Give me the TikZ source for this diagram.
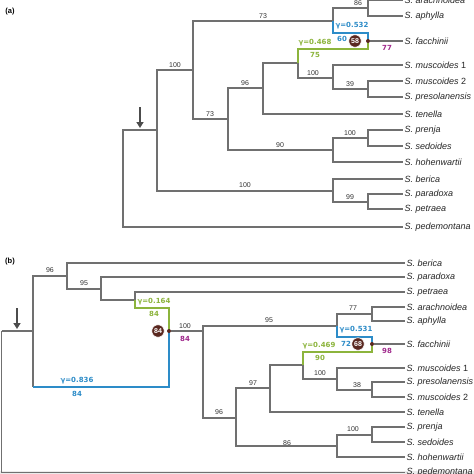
\documentclass[tikz,border=0pt]{standalone}
\usepackage{fontspec}
\setmainfont{Liberation Sans}
\newfontfamily\gfont{DejaVu Sans}
\usetikzlibrary{arrows.meta,calc}
\definecolor{br}{RGB}{112,112,112}
\definecolor{hb}{RGB}{45,140,200}
\definecolor{hg}{RGB}{140,180,60}
\definecolor{mg}{RGB}{160,40,140}
\definecolor{cb}{RGB}{90,40,32}
\begin{document}
\begin{tikzpicture}[x=1pt,y=-1pt,
 edge/.style={draw=br,line width=1.1pt},
 bedge/.style={draw=hb,line width=1.3pt},
 gedge/.style={draw=hg,line width=1.3pt},
 leaf/.style={anchor=west,inner sep=1.5pt,font=\fontsize{9}{10}\selectfont\itshape,text=black!85},
 blab/.style={font=\fontsize{7}{8}\selectfont,text=black!80,inner sep=0pt},
 glab/.style={font=\gfont\bfseries\fontsize{7}{8}\selectfont,inner sep=0pt},
 hcirc/.style={circle,fill=cb,draw=white,line width=0.6pt,text=white,minimum size=12.5pt,inner sep=0pt,font=\fontsize{7}{7}\selectfont\bfseries},
 hdot/.style={circle,fill=cb,minimum size=4pt,inner sep=0pt},
 panel/.style={font=\fontsize{7.5}{8}\selectfont\bfseries,inner sep=0pt},
 arr/.style={-{Triangle[width=7pt,length=6pt]},line width=1.5pt,draw=black!70},
]
\useasboundingbox (0,0) rectangle (474,474);
\fill[white] (0,0) rectangle (474,474);

% ---------------- panel (a) ----------------
\node[panel] (pa) at (10,12) {(a)};
\coordinate (rootA) at (123,178);
\coordinate (nI) at (157,130);
\coordinate (n1) at (193,70);
\coordinate (n2) at (333,21);
\coordinate (nAA) at (368,8);
\coordinate (n3) at (228,119);
\coordinate (n4) at (263,88);
\coordinate (n5) at (298,63);
\coordinate (nM) at (333,78);
\coordinate (nM2) at (368,89);
\coordinate (nP) at (333,150);
\coordinate (nPS) at (368,138);
\coordinate (nB) at (333,191);
\coordinate (nBP) at (368,202);
\coordinate (bA) at (368,33);
\coordinate (gA) at (368,49);

\node[leaf] (a1) at (403,0) {S. arachnoidea};
\node[leaf] (a2) at (403,16) {S. aphylla};
\node[leaf] (a3) at (403,41) {S. facchinii};
\node[leaf] (a4) at (403,65) {S. muscoides \upshape 1};
\node[leaf] (a5) at (403,81) {S. muscoides \upshape 2};
\node[leaf] (a6) at (403,97) {S. presolanensis};
\node[leaf] (a7) at (403,114) {S. tenella};
\node[leaf] (a8) at (403,130) {S. prenja};
\node[leaf] (a9) at (403,146) {S. sedoides};
\node[leaf] (a10) at (403,162) {S. hohenwartii};
\node[leaf] (a11) at (403,179) {S. berica};
\node[leaf] (a12) at (403,194) {S. paradoxa};
\node[leaf] (a13) at (403,209) {S. petraea};
\node[leaf] (a14) at (403,227) {S. pedemontana};

\draw[edge] (rootA) |- (nI);
\draw[edge] (rootA) |- (a14.west);
\draw[edge] (nI) |- (n1);
\draw[edge] (nI) |- (nB);
\draw[edge] (n1) |- (n2);
\draw[edge] (n1) |- (n3);
\draw[edge] (n2) |- (nAA);
\draw[edge] (nAA) |- (a1.west);
\draw[edge] (nAA) |- (a2.west);
\draw[edge] (n3) |- (n4);
\draw[edge] (n3) |- (nP);
\draw[edge] (n4) |- (n5);
\draw[edge] (n4) |- (a7.west);
\draw[edge] (n5) |- (nM);
\draw[edge] (nM) |- (a4.west);
\draw[edge] (nM) |- (nM2);
\draw[edge] (nM2) |- (a5.west);
\draw[edge] (nM2) |- (a6.west);
\draw[edge] (nP) |- (nPS);
\draw[edge] (nP) |- (a10.west);
\draw[edge] (nPS) |- (a8.west);
\draw[edge] (nPS) |- (a9.west);
\draw[edge] (nB) |- (a11.west);
\draw[edge] (nB) |- (nBP);
\draw[edge] (nBP) |- (a12.west);
\draw[edge] (nBP) |- (a13.west);
\draw[bedge] (n2) |- (bA) -- ($(bA)+(0,8)$);
\draw[gedge] (n5) |- (gA) -- ($(gA)+(0,-8)$);
\node[hdot] (hA) at (368,41) {};
\draw[edge] (hA) -- (a3.west);
\node[hcirc] (cA) at (355,41) {58};

\node[blab] at (358,3.5) {86};
\node[blab] at (263,16) {73};
\node[blab] at (175,65) {100};
\node[blab] at (210,114) {73};
\node[blab] at (245,83) {96};
\node[blab] at (313,73) {100};
\node[blab] at (350,84) {39};
\node[blab] at (280,145) {90};
\node[blab] at (350,133) {100};
\node[blab] at (245,185) {100};
\node[blab] at (350,197) {99};
\node[glab,text=hb] at (352,26) {γ=0.532};
\node[glab,text=hb] at (342,39) {60};
\node[glab,text=hg] at (315,43) {γ=0.468};
\node[glab,text=hg] at (315,55) {75};
\node[glab,text=mg] at (387,48) {77};

\coordinate (arA1) at (140,107);
\coordinate (arA2) at (140,128);
\draw[arr] (arA1) -- (arA2);

% ---------------- panel (b) ----------------
\node[panel] (pb) at (10,262) {(b)};
\coordinate (rootB0) at (1.5,331);
\coordinate (rootB) at (33,331);
\coordinate (rootBb) at (33,387);
\coordinate (m1) at (67,276);
\coordinate (m2) at (101,289);
\coordinate (m3) at (135,300);
\coordinate (m4) at (203,331);
\coordinate (m5) at (337,326);
\coordinate (mAA) at (372,314);
\coordinate (m6) at (236,418);
\coordinate (m7) at (270,388);
\coordinate (m8) at (303,365);
\coordinate (mM) at (337,379);
\coordinate (mM2) at (372,390);
\coordinate (mP) at (337,446);
\coordinate (mPS) at (372,435);
\coordinate (gB1) at (169,308);
\coordinate (bB1) at (169,387);
\coordinate (bB2) at (372,337);
\coordinate (gB2) at (372,352);

\fill[black!8] (0,471) rectangle (474,474);

\node[leaf] (b1) at (405,263) {S. berica};
\node[leaf] (b2) at (405,277) {S. paradoxa};
\node[leaf] (b3) at (405,292) {S. petraea};
\node[leaf] (b4) at (405,307) {S. arachnoidea};
\node[leaf] (b5) at (405,321) {S. aphylla};
\node[leaf] (b6) at (405,344) {S. facchinii};
\node[leaf] (b7) at (405,368) {S. muscoides \upshape 1};
\node[leaf] (b8) at (405,382) {S. presolanensis};
\node[leaf] (b9) at (405,397) {S. muscoides \upshape 2};
\node[leaf] (b10) at (405,412) {S. tenella};
\node[leaf] (b11) at (405,427) {S. prenja};
\node[leaf] (b12) at (405,442) {S. sedoides};
\node[leaf] (b13) at (405,457) {S. hohenwartii};
\node[leaf] (b14) at (405,472.5) {S. pedemontana};

\draw[edge] (rootB0) -- (rootB);
\draw[edge] (rootB0) |- (b14.west);
\draw[edge] (rootB) |- (m1);
\draw[edge] (rootB) -- (rootBb);
\draw[edge] (m1) |- (b1.west);
\draw[edge] (m1) |- (m2);
\draw[edge] (m2) |- (b2.west);
\draw[edge] (m2) |- (m3);
\draw[edge] (m3) |- (b3.west);
\draw[edge] (m4) |- (m5);
\draw[edge] (m4) |- (m6);
\draw[edge] (m5) |- (mAA);
\draw[edge] (mAA) |- (b4.west);
\draw[edge] (mAA) |- (b5.west);
\draw[edge] (m6) |- (m7);
\draw[edge] (m6) |- (mP);
\draw[edge] (m7) |- (m8);
\draw[edge] (m7) |- (b10.west);
\draw[edge] (m8) |- (mM);
\draw[edge] (mM) |- (b7.west);
\draw[edge] (mM) |- (mM2);
\draw[edge] (mM2) |- (b8.west);
\draw[edge] (mM2) |- (b9.west);
\draw[edge] (mP) |- (mPS);
\draw[edge] (mP) |- (b13.west);
\draw[edge] (mPS) |- (b11.west);
\draw[edge] (mPS) |- (b12.west);

\draw[gedge] (m3) |- (gB1) -- ($(gB1)+(0,23)$);
\draw[bedge] (rootBb) -- (bB1) -- ($(bB1)+(0,-56)$);
\draw[bedge] (m5) |- (bB2) -- ($(bB2)+(0,7)$);
\draw[gedge] (m8) |- (gB2) -- ($(gB2)+(0,-8)$);
\node[hdot] (hB) at (169,331) {};
\draw[edge] (hB) -- (m4);
\node[hdot] (hB2) at (372,344) {};
\draw[edge] (hB2) -- (b6.west);
\node[hcirc] (cB1) at (158,331) {84};
\node[hcirc] (cB2) at (358,344) {68};

\node[blab] at (50,270) {96};
\node[blab] at (84,283) {95};
\node[blab] at (185,326) {100};
\node[glab,text=mg] at (185,339) {84};
\node[blab] at (269,320) {95};
\node[blab] at (353,308) {77};
\node[blab] at (253,383) {97};
\node[blab] at (320,373) {100};
\node[blab] at (357,385) {38};
\node[blab] at (219,412) {96};
\node[blab] at (353,429) {100};
\node[blab] at (287,443) {86};
\node[glab,text=hg] at (154,302) {γ=0.164};
\node[glab,text=hg] at (154,314) {84};
\node[glab,text=hb] at (77,381) {γ=0.836};
\node[glab,text=hb] at (77,394) {84};
\node[glab,text=hb] at (356,330) {γ=0.531};
\node[glab,text=hb] at (346,344) {72};
\node[glab,text=hg] at (319,346) {γ=0.469};
\node[glab,text=hg] at (320,358) {90};
\node[glab,text=mg] at (387,351) {98};

\coordinate (arB1) at (17,308);
\coordinate (arB2) at (17,329);
\draw[arr] (arB1) -- (arB2);
\end{tikzpicture}
\end{document}
